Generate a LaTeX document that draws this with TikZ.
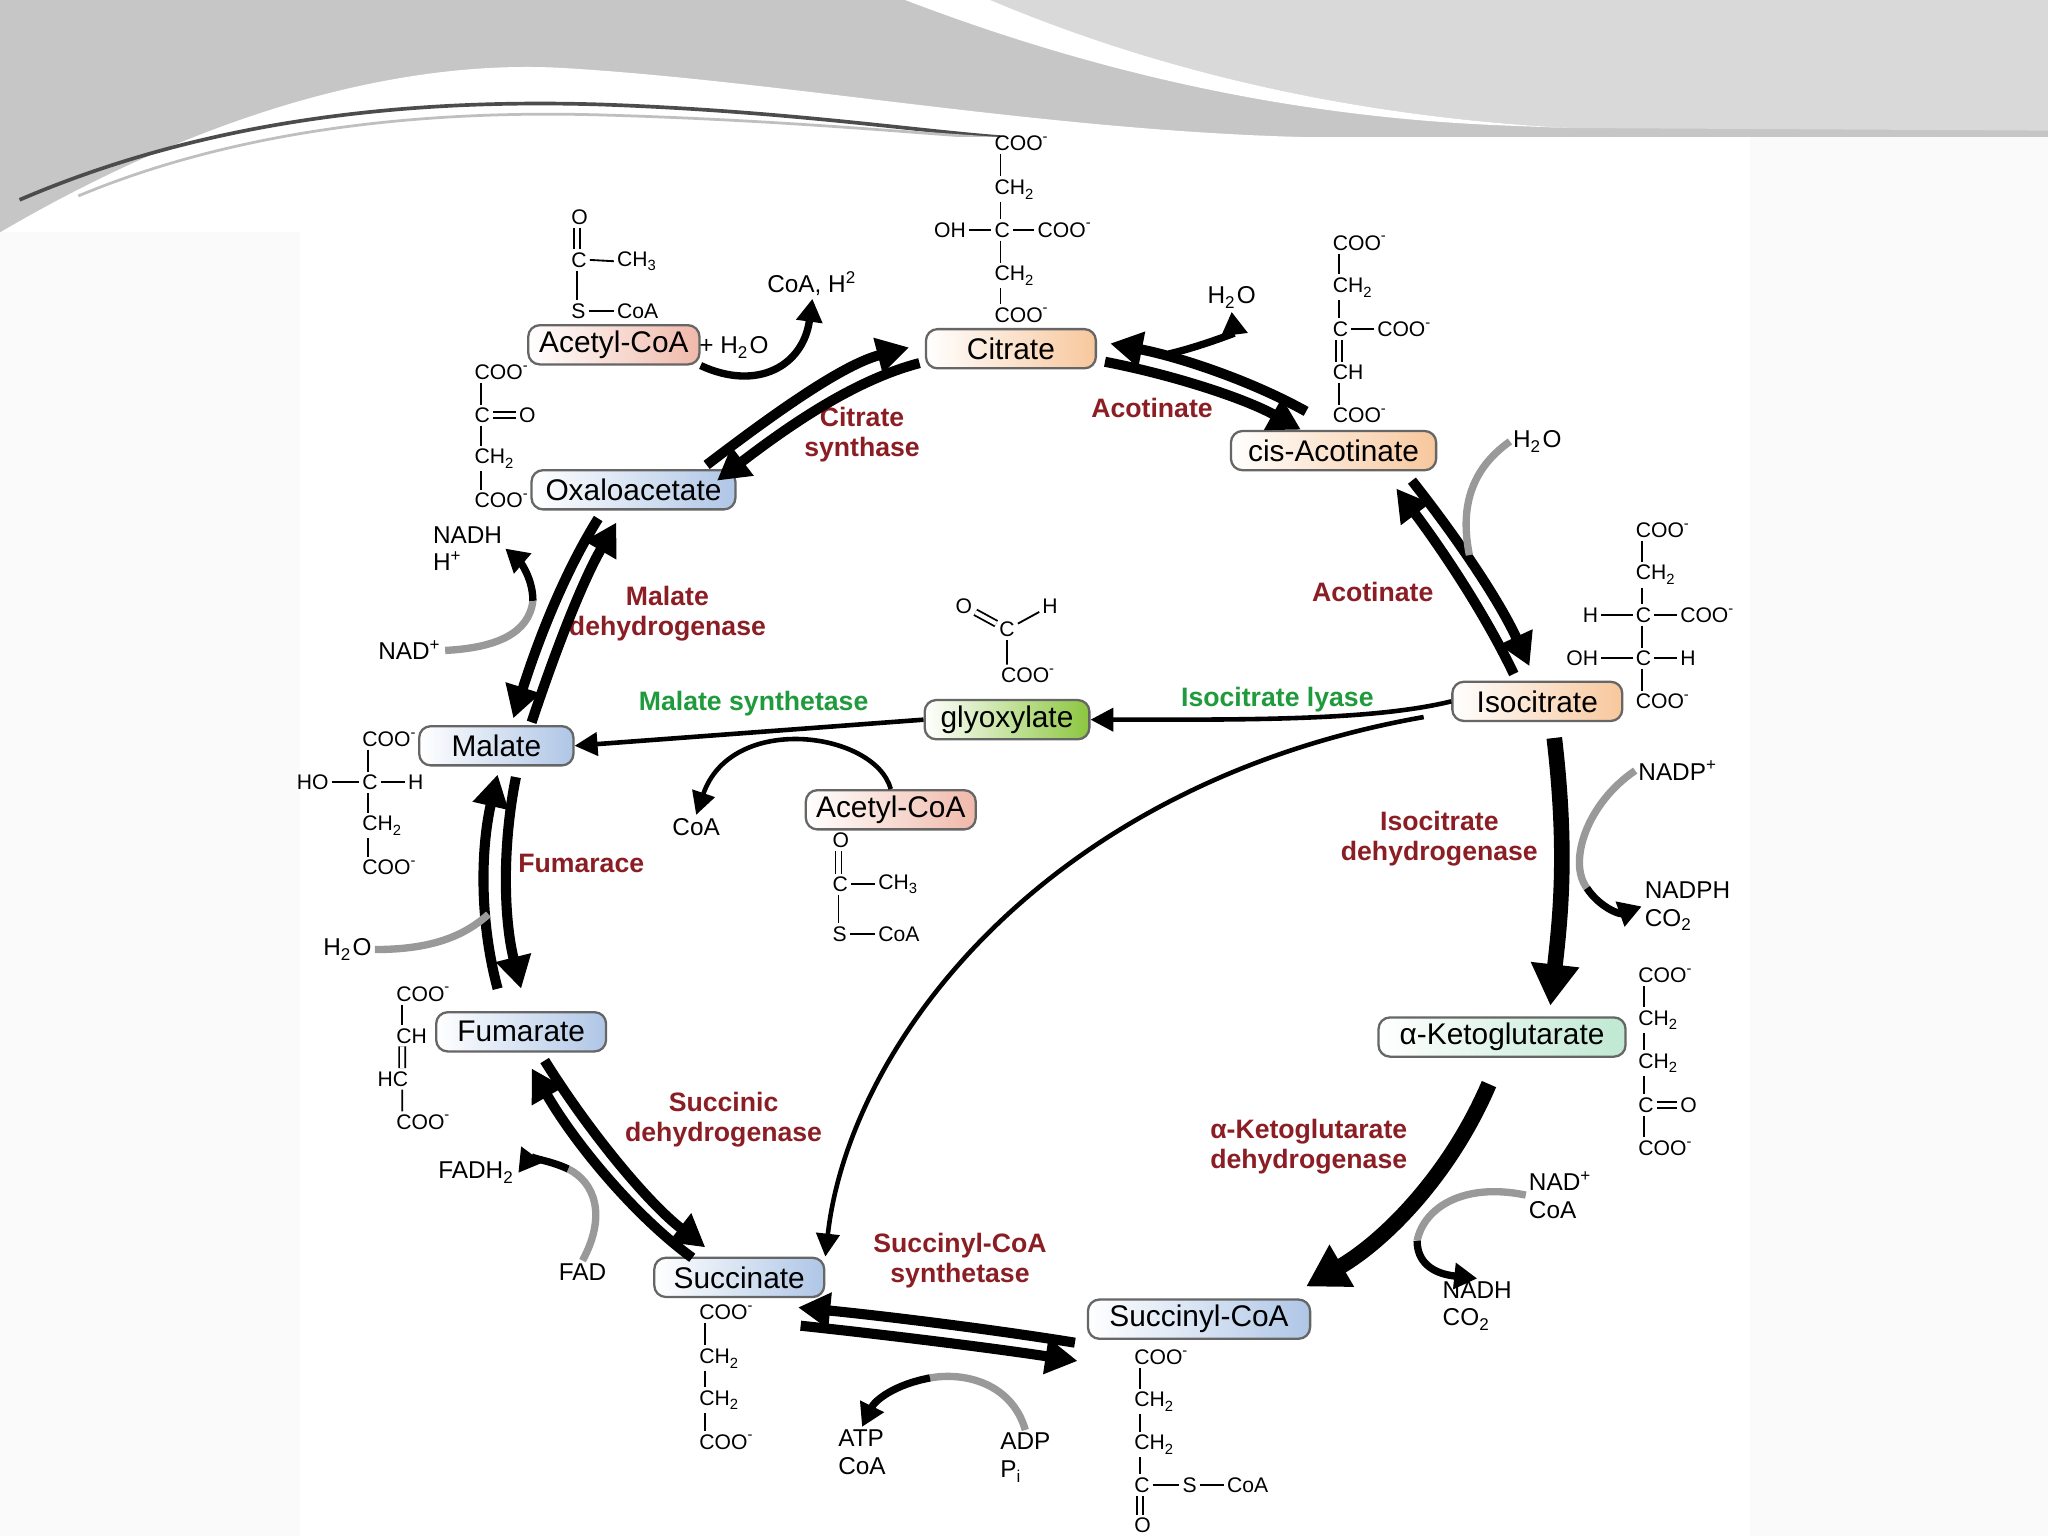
\documentclass[tikz,border=0pt]{standalone}
\usepackage{fontspec}
\setmainfont{Liberation Sans}
\usetikzlibrary{arrows.meta}
\definecolor{enz}{HTML}{8B1E24}
\definecolor{grn}{HTML}{1F9A3C}
\definecolor{orf}{HTML}{F7C79C}
\definecolor{blf}{HTML}{AFC6E6}
\definecolor{gnf}{HTML}{BFE8D2}
\definecolor{glf}{HTML}{8CC63F}
\definecolor{pkf}{HTML}{F0B9AA}
\newcommand\cl[4]{\node[chem,anchor=west] (#1) at ({#2-7},#3) {#4};}
\newcommand\vb[2]{\draw[bond] ([xshift=0.07cm]#1.south west) -- ([xshift=0.07cm]#2.north west);}
\newcommand\vd[2]{\draw[dbl] ([xshift=0.07cm]#1.south west) -- ([xshift=0.07cm]#2.north west);}
\newcommand\sbx[1]{\textsubscript{#1}}
\newcommand\spx[1]{\textsuperscript{#1}}
\newcommand\coo{COO\spx{-}}
\begin{document}
\begin{tikzpicture}[x=0.01cm,y=-0.01cm,
 box/.style={draw=black!60,rounded corners=2.5pt,line width=0.5pt,minimum height=0.3cm,inner sep=1pt,font=\fontsize{6.5}{7.5}\selectfont},
 chem/.style={inner sep=0.5pt,font=\fontsize{4.6}{5}\selectfont},
 bond/.style={line width=0.4pt},
 dbl/.style={line width=0.4pt,double,double distance=0.9pt},
 enzyme/.style={text=enz,font=\bfseries\fontsize{5.8}{6.6}\selectfont,align=center},
 green/.style={text=grn,font=\bfseries\fontsize{5.8}{6.6}\selectfont},
 cof/.style={font=\fontsize{5.3}{6}\selectfont,align=left,inner sep=0.5pt},
 big/.style={line width=2.2pt,-{Triangle[length=7pt,width=7.5pt]}},
 heavy/.style={line width=3.4pt,-{Triangle[length=9pt,width=10pt]}},
 side/.style={line width=1.6pt,-{Triangle[length=5pt,width=5.5pt]}},
 sidet/.style={line width=1.6pt,gray!80},
 thin/.style={line width=1pt,-{Triangle[length=5pt,width=5pt]}}]
\useasboundingbox (0,0) rectangle (1568,1176);
% background
\fill[gray!45] (0,0) rectangle (1568,1176);
\fill[gray!30] (758,0) .. controls (900,60) and (1050,90) .. (1201,98) -- (1568,100) -- (1568,0) -- cycle;
\fill[white] (693,0) .. controls (850,60) and (1000,90) .. (1150,96) -- (1201,98) .. controls (1050,90) and (900,60) .. (758,0) -- cycle;
\fill[white] (0,178) .. controls (150,90) and (300,45) .. (430,52) .. controls (600,62) and (800,100) .. (1000,105) -- (1568,105) -- (1568,1176) -- (0,1176) -- cycle;
\fill[gray!4] (0,178) rectangle (230,1176);\fill[gray!4] (1340,105) rectangle (1568,1176);
\draw[gray!60!black,line width=0.8pt] (15,153) .. controls (150,95) and (300,75) .. (460,80) .. controls (600,85) and (700,100) .. (766,105);
\draw[gray!50,line width=0.6pt] (60,150) .. controls (180,100) and (320,84) .. (460,88) .. controls (600,92) and (700,102) .. (766,106);
\fill[white] (230,105) rectangle (1340,1176);
% main nodes
\node[box,left color=white,right color=pkf,minimum width=1.31cm] (acoa) at (470,264) {Acetyl-CoA};
\node[box,left color=white,right color=orf,minimum width=1.3cm] (cit) at (774,267) {Citrate};
\node[box,left color=white,right color=orf,minimum width=1.57cm] (cis) at (1021,345) {cis-Acotinate};
\node[box,left color=white,right color=orf,minimum width=1.3cm] (iso) at (1177,537) {Isocitrate};
\node[box,left color=white,right color=gnf,minimum width=1.89cm] (akg) at (1150,794) {α-Ketoglutarate};
\node[box,left color=white,right color=blf,minimum width=1.7cm] (scoa) at (918,1010) {Succinyl-CoA};
\node[box,left color=white,right color=blf,minimum width=1.3cm] (suc) at (566,978) {Succinate};
\node[box,left color=white,right color=blf,minimum width=1.3cm] (fum) at (399,790) {Fumarate};
\node[box,left color=white,right color=blf,minimum width=1.18cm] (mal) at (380,571) {Malate};
\node[box,left color=white,right color=blf,minimum width=1.56cm] (oaa) at (485,375) {Oxaloacetate};
\node[box,left color=white,right color=glf,minimum width=1.26cm] (gly) at (771,551) {glyoxylate};
\node[box,left color=white,right color=pkf,minimum width=1.3cm] (acoa2) at (682,620) {Acetyl-CoA};
% structures: acetyl-CoA top
\cl{a1}{442}{166}{O}\cl{a2}{442}{199}{C}\cl{a3}{442}{238}{S}
\node[chem,anchor=west] (a4) at (470,200) {CH\sbx{3}};\node[chem,anchor=west] (a5) at (470,238) {CoA};
\vd{a1}{a2}\vb{a2}{a3}\draw[bond] (a2.east)--(a4.west);\draw[bond] (a3.east)--(a5.west);
% citrate
\cl{c1}{766}{110}{\coo}\cl{c2}{766}{145}{CH\sbx{2}}\cl{c3}{766}{176}{C}\cl{c4}{766}{211}{CH\sbx{2}}\cl{c5}{766}{241}{\coo}
\node[chem,anchor=east] (c6) at (742,176) {OH};\node[chem,anchor=west] (c7) at (792,176) {\coo};
\vb{c1}{c2}\vb{c2}{c3}\vb{c3}{c4}\vb{c4}{c5}\draw[bond] (c6.east)--(c3.west);\draw[bond] (c3.east)--(c7.west);
% cis-aconitate
\cl{d1}{1025}{186}{\coo}\cl{d2}{1025}{220}{CH\sbx{2}}\cl{d3}{1025}{252}{C}\cl{d4}{1025}{285}{CH}\cl{d5}{1025}{318}{\coo}
\node[chem,anchor=west] (d6) at (1052,252) {\coo};
\vb{d1}{d2}\vb{d2}{d3}\vd{d3}{d4}\vb{d4}{d5}\draw[bond] (d3.east)--(d6.west);
% isocitrate
\cl{e1}{1257}{406}{\coo}\cl{e2}{1257}{440}{CH\sbx{2}}\cl{e3}{1257}{471}{C}\cl{e4}{1257}{504}{C}\cl{e5}{1257}{537}{\coo}
\node[chem,anchor=east] (e6) at (1226,471) {H};\node[chem,anchor=west] (e7) at (1284,471) {\coo};
\node[chem,anchor=east] (e8) at (1226,504) {OH};\node[chem,anchor=west] (e9) at (1284,504) {H};
\vb{e1}{e2}\vb{e2}{e3}\vb{e3}{e4}\vb{e4}{e5}
\draw[bond] (e6.east)--(e3.west);\draw[bond] (e3.east)--(e7.west);\draw[bond] (e8.east)--(e4.west);\draw[bond] (e4.east)--(e9.west);
% alpha-KG
\cl{k1}{1259}{747}{\coo}\cl{k2}{1259}{781}{CH\sbx{2}}\cl{k3}{1259}{814}{CH\sbx{2}}\cl{k4}{1259}{846}{C}\cl{k5}{1259}{879}{\coo}
\node[chem,anchor=west] (k6) at (1284,846) {O};
\vb{k1}{k2}\vb{k2}{k3}\vb{k3}{k4}\vb{k4}{k5}\draw[dbl] (k4.east)--(k6.west);
% succinyl-CoA
\cl{s1}{873}{1039}{\coo}\cl{s2}{873}{1073}{CH\sbx{2}}\cl{s3}{873}{1106}{CH\sbx{2}}\cl{s4}{873}{1137}{C}\cl{s5}{873}{1168}{O}
\node[chem,anchor=west] (s6) at (903,1137) {S};\node[chem,anchor=west] (s7) at (937,1137) {CoA};
\vb{s1}{s2}\vb{s2}{s3}\vb{s3}{s4}\vd{s4}{s5}\draw[bond] (s4.east)--(s6.west);\draw[bond] (s6.east)--(s7.west);
% succinate
\cl{u1}{540}{1005}{\coo}\cl{u2}{540}{1040}{CH\sbx{2}}\cl{u3}{540}{1072}{CH\sbx{2}}\cl{u4}{540}{1104}{\coo}
\vb{u1}{u2}\vb{u2}{u3}\vb{u3}{u4}
% fumarate
\cl{f1}{308}{761}{\coo}\cl{f2}{308}{793}{CH}\node[chem,anchor=east] (f3) at (315,826) {HC};\cl{f4}{308}{859}{\coo}
\vb{f1}{f2}\draw[dbl] ([xshift=0.07cm]f2.south west)--([xshift=-0.07cm]f3.north east);
\draw[bond] ([xshift=-0.07cm]f3.south east)--([xshift=0.07cm]f4.north west);
% malate
\cl{m1}{282}{566}{\coo}\cl{m2}{282}{599}{C}\cl{m3}{282}{632}{CH\sbx{2}}\cl{m4}{282}{664}{\coo}
\node[chem,anchor=east] (m5) at (254,599) {HO};\node[chem,anchor=west] (m6) at (310,599) {H};
\vb{m1}{m2}\vb{m2}{m3}\vb{m3}{m4}\draw[bond] (m5.east)--(m2.west);\draw[bond] (m2.east)--(m6.west);
% oxaloacetate
\cl{o1}{368}{285}{\coo}\cl{o2}{368}{318}{C}\cl{o3}{368}{351}{CH\sbx{2}}\cl{o4}{368}{383}{\coo}
\node[chem,anchor=west] (o5) at (395,318) {O};
\vb{o1}{o2}\vb{o2}{o3}\vb{o3}{o4}\draw[dbl] (o2.east)--(o5.west);
% glyoxylate
\node[chem] (g1) at (738,464) {O};\node[chem] (g2) at (771,482) {C};\node[chem] (g3) at (804,464) {H};\cl{g4}{771}{517}{\coo}
\draw[dbl] (g1)--(g2);\draw[bond] (g2)--(g3);\draw[bond] (g2.south)--([xshift=0.07cm]g4.north west);
% acetyl-CoA 2
\cl{b1}{642}{643}{O}\cl{b2}{642}{677}{C}\cl{b3}{642}{715}{S}
\node[chem,anchor=west] (b4) at (670,677) {CH\sbx{3}};\node[chem,anchor=west] (b5) at (670,715) {CoA};
\vd{b1}{b2}\vb{b2}{b3}\draw[bond] (b2.east)--(b4.west);\draw[bond] (b3.east)--(b5.west);
% enzyme labels
\node[enzyme] at (660,333) {Citrate\\synthase};
\node[enzyme] at (882,312) {Acotinate};
\node[enzyme] at (1051,453) {Acotinate};
\node[enzyme] at (1102,642) {Isocitrate\\dehydrogenase};
\node[enzyme] at (1002,878) {α-Ketoglutarate\\dehydrogenase};
\node[enzyme] at (735,965) {Succinyl-CoA\\synthetase};
\node[enzyme] at (554,857) {Succinic\\dehydrogenase};
\node[enzyme] at (445,661) {Fumarace};
\node[enzyme] at (511,470) {Malate\\dehydrogenase};
\node[green] at (577,539) {Malate synthetase};
\node[green] at (978,536) {Isocitrate lyase};
% cofactors
\node[cof] (t1) at (622,217) {CoA, H\spx{2}};
\node[cof] (t2) at (562,266) {+ H\sbx{2}O};
\node[cof] (t3) at (943,228) {H\sbx{2}O};
\node[cof] (t4) at (1177,338) {H\sbx{2}O};
\node[cof] (t5) at (1285,590) {NADP\spx{+}};
\node[cof] (t6) at (1292,694) {NADPH\\CO\sbx{2}};
\node[cof] (t7) at (1195,915) {NAD\spx{+}\\CoA};
\node[cof] (t8) at (1131,1000) {NADH\\CO\sbx{2}};
\node[cof] (t9) at (785,1116) {ADP\\P\sbx{i}};
\node[cof] (t10) at (660,1112) {ATP\\CoA};
\node[cof] (t11) at (446,974) {FAD};
\node[cof] (t12) at (365,898) {FADH\sbx{2}};
\node[cof] (t13) at (266,727) {H\sbx{2}O};
\node[cof] (t14) at (314,498) {NAD\spx{+}};
\node[cof] (t15) at (358,420) {NADH\\H\spx{+}};
\node[cof] (t16) at (533,633) {CoA};
% coordinates
\coordinate (q1) at (541,356);\coordinate (q2) at (696,266);\coordinate (q3) at (704,278);\coordinate (q4) at (549,368);
\coordinate (q5) at (846,277);\coordinate (q6) at (996,329);\coordinate (q7) at (1000,315);\coordinate (q8) at (850,263);
\coordinate (q9) at (1081,368);\coordinate (q10) at (1171,510);\coordinate (q11) at (1159,516);\coordinate (q12) at (1069,374);
\coordinate (r1) at (1190,565);\coordinate (r2) at (1187,770);\coordinate (r3) at (1140,830);\coordinate (r4) at (1000,985);
\coordinate (r5) at (823,1028);\coordinate (r6) at (611,1001);\coordinate (r7) at (613,1015);\coordinate (r8) at (825,1042);
\coordinate (r9) at (417,812);\coordinate (r10) at (540,955);\coordinate (r11) at (530,963);\coordinate (r12) at (407,818);
\coordinate (h1) at (381,757);\coordinate (h2) at (381,593);\coordinate (h3) at (395,595);\coordinate (h4) at (399,757);
\coordinate (h5) at (458,397);\coordinate (h6) at (393,550);\coordinate (h7) at (407,553);\coordinate (h8) at (472,400);
% main arrows
\draw[big] (q1) .. controls (596,314) and (646,279) .. (q2);
\draw[big] (q3) .. controls (654,291) and (604,326) .. (q4);
\draw[big] (q5) .. controls (898,287) and (953,305) .. (q6);
\draw[big] (q7) .. controls (957,291) and (902,273) .. (q8);
\draw[big] (q9) .. controls (1111,406) and (1146,456) .. (q10);
\draw[big] (q11) .. controls (1134,464) and (1099,414) .. (q12);
\draw[heavy] (r1) .. controls (1200,650) and (1195,700) .. (r2);
\draw[heavy] (r3) .. controls (1110,900) and (1060,950) .. (r4);
\draw[big] (r5) .. controls (761,1018) and (681,1008) .. (r6);
\draw[big] (r7) .. controls (679,1022) and (759,1032) .. (r8);
\draw[big] (r9) .. controls (450,865) and (495,920) .. (r10);
\draw[big] (r11) .. controls (485,930) and (440,875) .. (r12);
\draw[big] (h1) .. controls (367,705) and (368,650) .. (h2);
\draw[big] (h3) .. controls (384,650) and (386,705) .. (h4);
\draw[big] (h5) .. controls (433,437) and (413,487) .. (h6);
\draw[big] (h7) .. controls (427,493) and (447,443) .. (h8);
% side arrows
\draw[side] (acoa.south east) .. controls (580,300) and (615,280) .. (t1.south);
\draw[side] (895,271) .. controls (920,265) and (945,255) .. (t3.south);
\draw[sidet] (t4.west) .. controls (1125,360) and (1118,390) .. (1125,425);
\draw[sidet] (t5.west) .. controls (1215,615) and (1200,660) .. (1215,680);
\draw[side] (1215,680) .. controls (1225,695) and (1240,700) .. (t6.west);
\draw[sidet] (t7.west) .. controls (1120,905) and (1090,925) .. (1085,950);
\draw[side] (1085,950) .. controls (1085,965) and (1095,975) .. (t8.north);
\draw[sidet] (t9.north) .. controls (775,1060) and (740,1050) .. (712,1055);
\draw[side] (712,1055) .. controls (685,1060) and (670,1072) .. (t10.north);
\draw[sidet] (t11.north) .. controls (465,930) and (455,905) .. (435,895);
\draw[side] (435,895) .. controls (420,888) and (405,887) .. (t12.east);
\draw[sidet] (t13.east) .. controls (330,727) and (355,717) .. (374,700);
\draw[sidet] (t14.east) .. controls (380,496) and (405,485) .. (408,460);
\draw[side] (408,460) .. controls (408,440) and (395,427) .. (t15.east);
% glyoxylate shunt
\draw[thin] (iso.west) .. controls (1050,552) and (950,551) .. (gly.east);
\draw[thin] (1090,549) .. controls (800,600) and (650,800) .. (suc.north east);
\draw[thin] (gly.west) -- (mal.east);
\draw[thin] (acoa2.north) .. controls (670,560) and (560,545) .. (t16.north);
\end{tikzpicture}
\end{document}
